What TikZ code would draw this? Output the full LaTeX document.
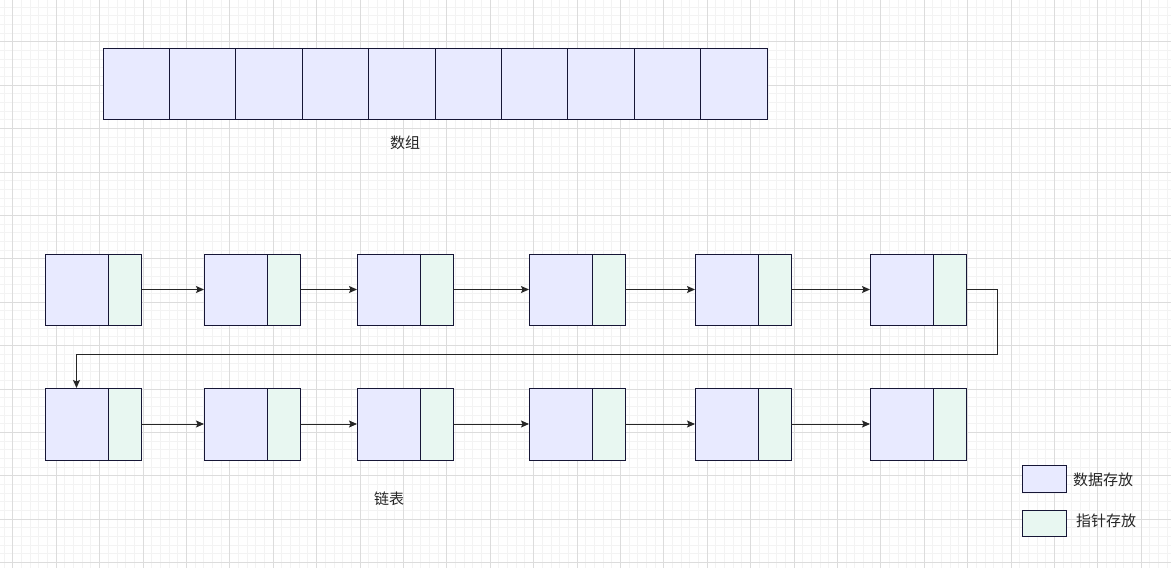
\documentclass[tikz,border=0pt]{standalone}
\usepackage{fontspec}
\newfontfamily\cjk{Noto Sans CJK SC}
\usetikzlibrary{arrows.meta, positioning}
\definecolor{datafill}{RGB}{232,234,255}
\definecolor{ptrfill}{RGB}{232,247,241}
\definecolor{edge}{RGB}{22,22,54}
\definecolor{gridminor}{RGB}{243,243,243}
\definecolor{gridmajor}{RGB}{220,220,220}
\begin{document}
\begin{tikzpicture}[
    x=1pt, y=-1pt,
    >={Stealth[length=8pt, width=7pt, inset=1.5pt]},
    link/.style={->, line width=0.9pt, draw=black!85},
    cell/.style={draw=edge, line width=1pt, inner sep=0pt, outer sep=0pt, minimum height=71pt},
    dcell/.style={cell, fill=datafill, minimum width=63pt},
    pcell/.style={cell, fill=ptrfill, minimum width=33pt},
    acell/.style={cell, fill=datafill, minimum width=66.4pt},
    keybox/.style={draw=edge, line width=1pt, inner sep=0pt, minimum width=44pt, minimum height=27pt},
    lbl/.style={font=\cjk\fontsize{15}{17}\selectfont, text=black!85, inner sep=0pt},
]
\useasboundingbox (0,0) rectangle (1171,568);
\fill[white] (0,0) rectangle (1171,568);
% === background grid ===
\foreach \k in {-1,...,133} {
    \draw[gridminor, line width=0.7pt] ({12.7+\k*8.68},0) -- ({12.7+\k*8.68},568);
}
\foreach \k in {-4,...,61} {
    \draw[gridminor, line width=0.7pt] (0,{41.7+\k*8.68}) -- (1171,{41.7+\k*8.68});
}
\foreach \k in {0,...,26} {
    \draw[gridmajor, line width=0.8pt] ({12.7+\k*43.4},0) -- ({12.7+\k*43.4},568);
}
\foreach \k in {0,...,12} {
    \draw[gridmajor, line width=0.8pt] (0,{41.7+\k*43.4}) -- (1171,{41.7+\k*43.4});
}
% === array ===
\foreach \i in {1,...,10} {
    \node[acell, anchor=north west] (a\i) at ({103+(\i-1)*66.4}, 48) {};
}
\node[lbl] (arrlbl) at (405,143) {数组};
% === linked list, first row ===
\foreach \i/\x in {1/45, 2/204, 3/357, 4/529, 5/695, 6/870} {
    \node[dcell, anchor=north west] (d\i) at (\x, 254) {};
    \node[pcell, anchor=west] (p\i) at (d\i.east) {};
}
% === second row ===
\foreach \i/\x in {7/45, 8/204, 9/357, 10/529, 11/695, 12/870} {
    \node[dcell, anchor=north west, minimum height=72pt] (d\i) at (\x, 388) {};
    \node[pcell, anchor=west, minimum height=72pt] (p\i) at (d\i.east) {};
}
% links
\foreach \i [evaluate=\i as \j using int(\i+1)] in {1,2,3,4,5,7,8,9,10,11} {
    \draw[link] (p\i.east) -- (d\j.west);
}
\draw[link] (p6.east) -- ++(31,0) |- ([yshift=34pt]d7.north) -- (d7.north);
\node[lbl] (listlbl) at (389,499) {链表};
% === legend ===
\node[keybox, fill=datafill, anchor=north west] (keydata) at (1022,465) {};
\node[lbl, right=6pt of keydata, yshift=-1pt] (keydatalbl) {数据存放};
\node[keybox, fill=ptrfill, anchor=north west, minimum height=26pt] (keyptr) at (1022,510) {};
\node[lbl, right=9pt of keyptr, yshift=3pt] (keyptrlbl) {指针存放};
\end{tikzpicture}
\end{document}
